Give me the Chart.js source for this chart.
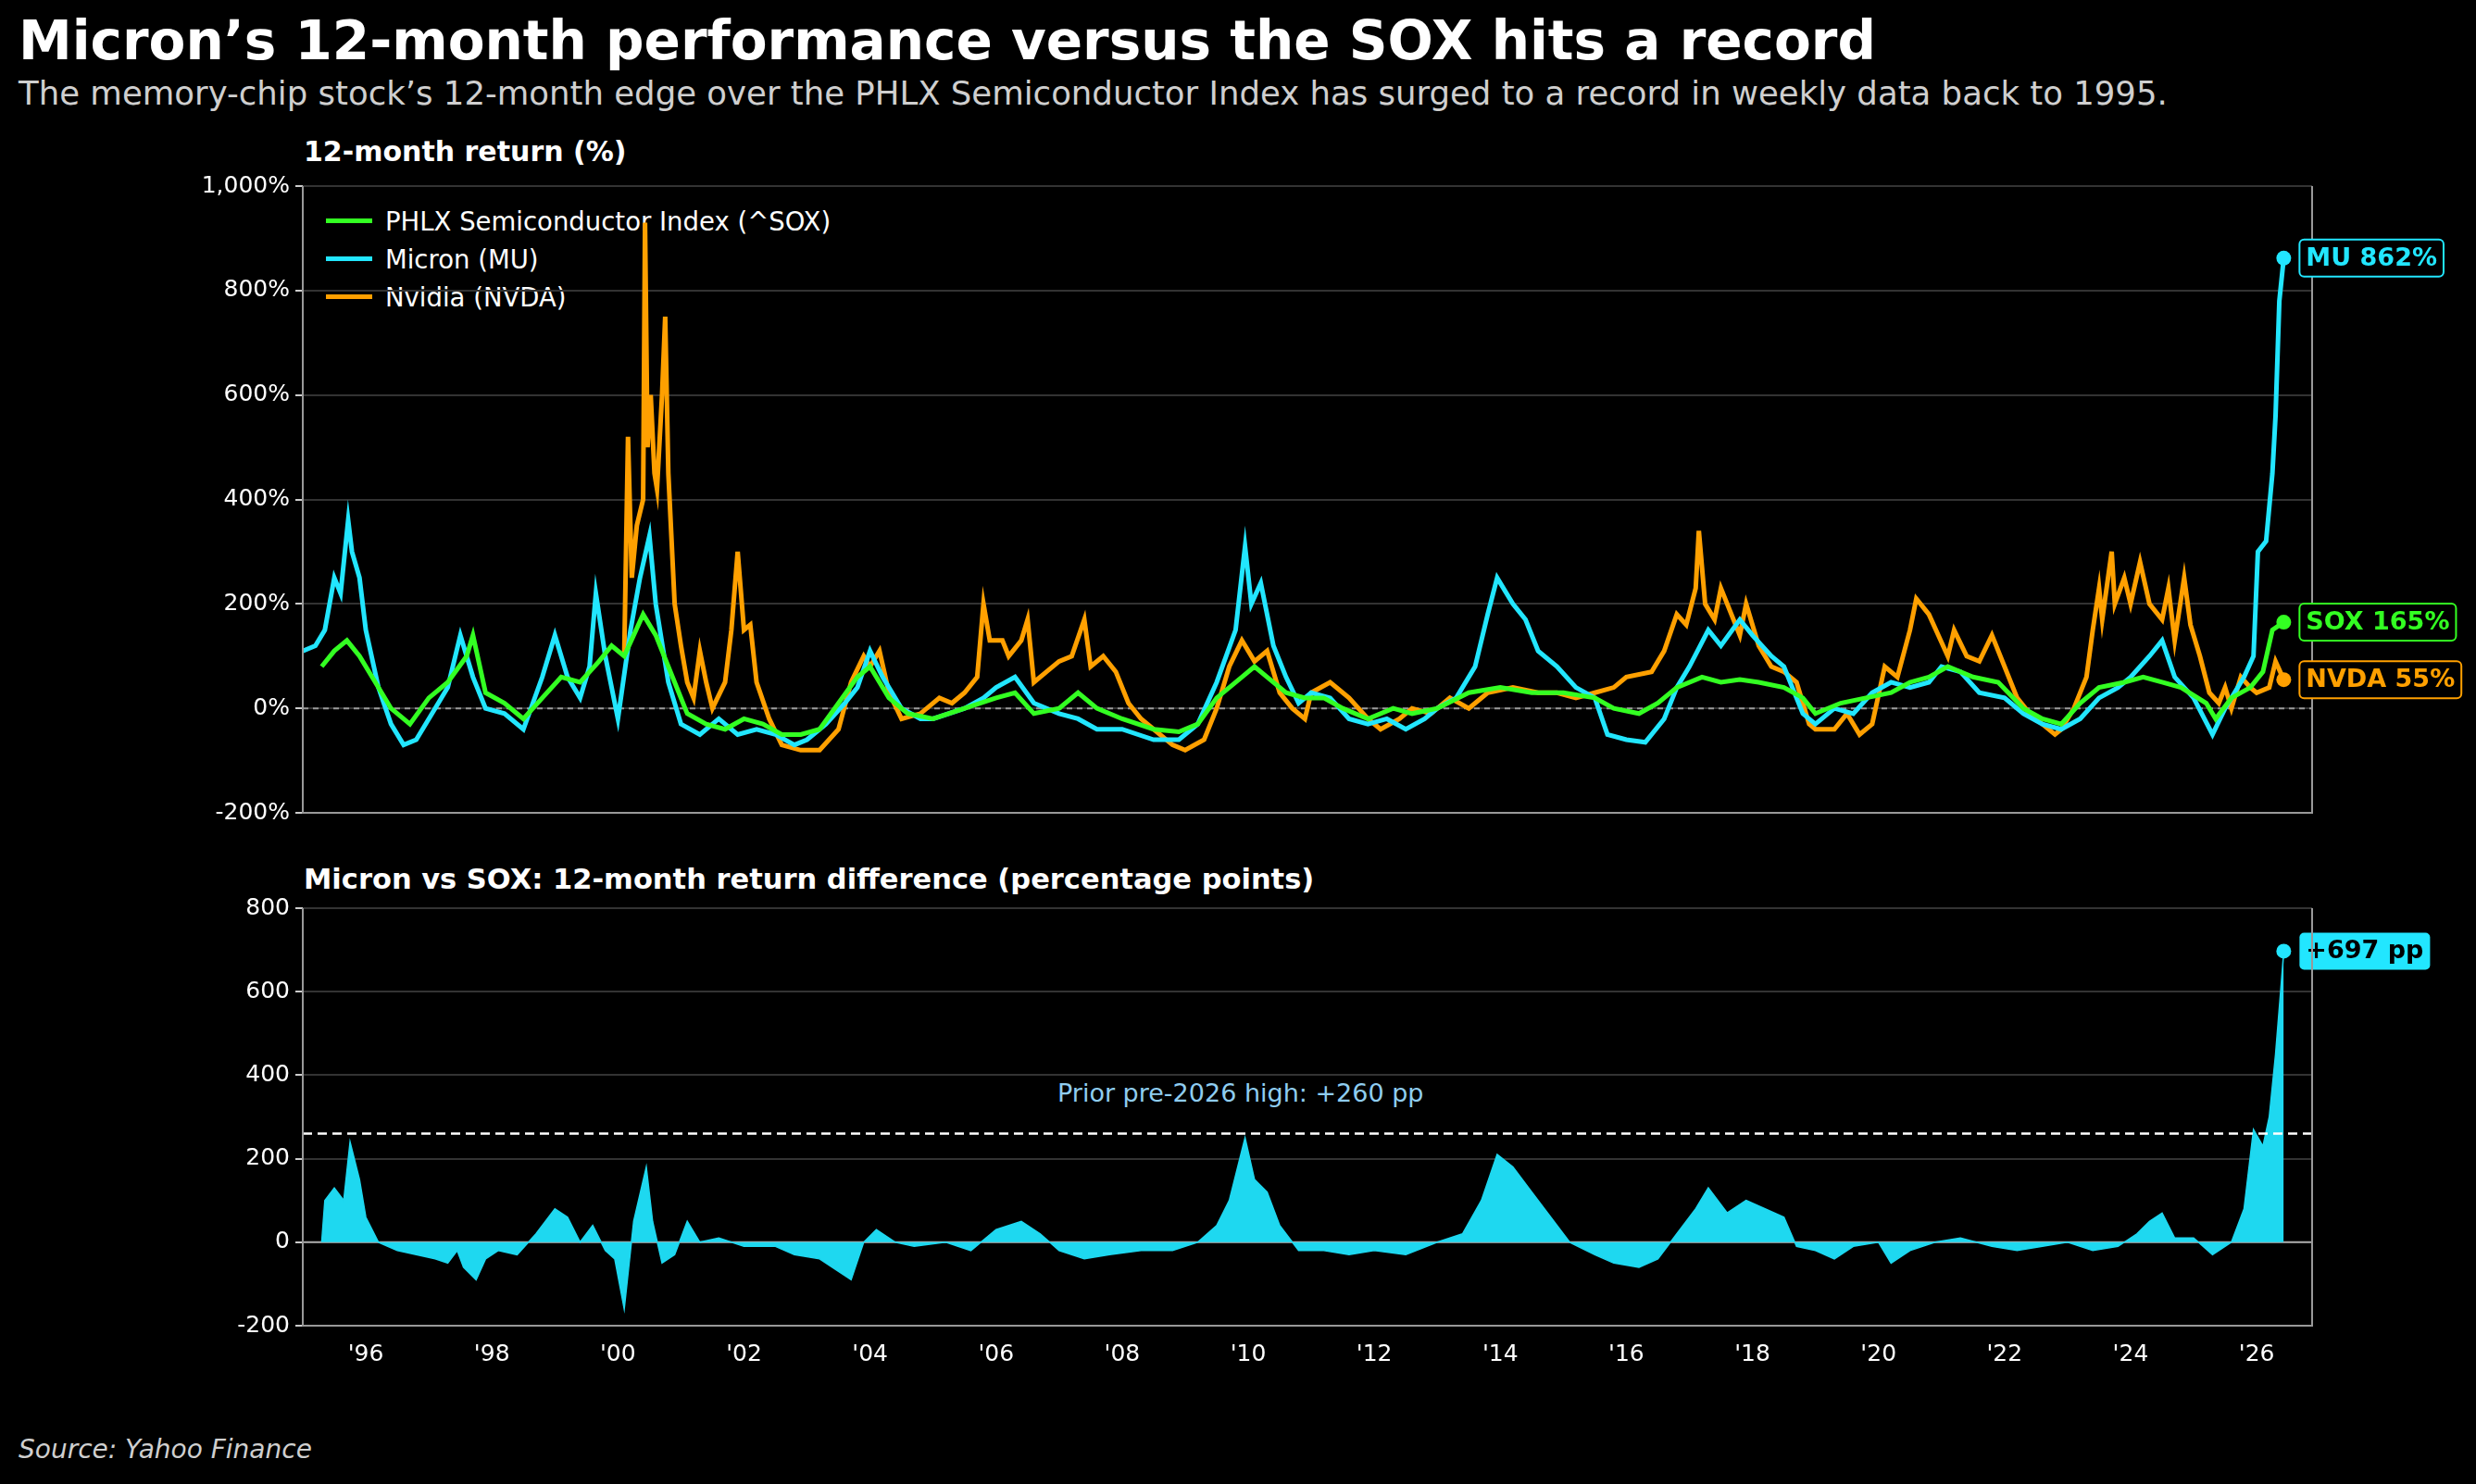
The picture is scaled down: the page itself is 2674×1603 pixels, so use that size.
<!DOCTYPE html>
<html><head><meta charset="utf-8">
<script src="https://cdn.jsdelivr.net/npm/chart.js@4"></script>
<style>
html,body{margin:0;padding:0;background:#000;width:2674px;height:1603px;overflow:hidden;font-family:"DejaVu Sans",sans-serif;color:#fff}
.t{position:absolute;white-space:nowrap}
canvas{position:absolute;left:0}
</style></head><body>
<div class="t" style="left:20px;top:10px;font-size:58px;font-weight:bold">Micron’s 12-month performance versus the SOX hits a record</div>
<div class="t" style="left:20px;top:80px;font-size:35.5px;color:#cfcfcf">The memory-chip stock’s 12-month edge over the PHLX Semiconductor Index has surged to a record in weekly data back to 1995.</div>
<div class="t" style="left:328px;top:146px;font-size:30px;font-weight:bold">12-month return (%)</div>
<div class="t" style="left:328px;top:932px;font-size:30.5px;font-weight:bold">Micron vs SOX: 12-month return difference (percentage points)</div>
<div class="t" style="left:20px;top:1549px;font-size:28px;font-style:italic;color:#cfcfcf">Source: Yahoo Finance</div>
<div class="t" style="left:1142px;top:1165px;font-size:27px;color:#8fcdf0">Prior pre-2026 high: +260 pp</div>
<div style="position:absolute;left:352px;top:218px;font-size:27.5px">
 <div style="height:41px;display:flex;align-items:center"><span style="display:inline-block;width:50px;height:5px;background:#33ff22;margin-right:14px"></span>PHLX Semiconductor Index (^SOX)</div>
 <div style="height:41px;display:flex;align-items:center"><span style="display:inline-block;width:50px;height:5px;background:#22e6ff;margin-right:14px"></span>Micron (MU)</div>
 <div style="height:41px;display:flex;align-items:center"><span style="display:inline-block;width:50px;height:5px;background:#ffa000;margin-right:14px"></span>Nvidia (NVDA)</div>
</div>
<canvas id="c1" width="2674" height="738" style="top:180px;width:2674px;height:738px"></canvas>
<canvas id="c2" width="2674" height="522" style="top:960px;width:2674px;height:522px"></canvas>
<script>
const muX=[1995.0,1995.2,1995.35,1995.5,1995.6,1995.72,1995.78,1995.9,1996.0,1996.2,1996.4,1996.6,1996.8,1997.0,1997.3,1997.5,1997.7,1997.9,1998.2,1998.5,1998.8,1999.0,1999.2,1999.4,1999.55,1999.65,1999.8,2000.0,2000.2,2000.35,2000.5,2000.6,2000.8,2001.0,2001.3,2001.6,2001.9,2002.2,2002.5,2002.8,2003.0,2003.3,2003.6,2003.8,2004.0,2004.2,2004.5,2004.8,2005.0,2005.5,2005.8,2006.0,2006.3,2006.6,2007.0,2007.3,2007.6,2008.0,2008.5,2008.9,2009.2,2009.5,2009.8,2009.95,2010.05,2010.2,2010.4,2010.6,2010.8,2011.0,2011.3,2011.6,2011.9,2012.2,2012.5,2012.8,2013.0,2013.3,2013.6,2013.8,2013.95,2014.2,2014.4,2014.6,2014.9,2015.2,2015.5,2015.7,2016.0,2016.3,2016.6,2016.8,2017.0,2017.3,2017.5,2017.8,2018.0,2018.3,2018.5,2018.8,2019.0,2019.3,2019.6,2019.9,2020.2,2020.5,2020.8,2021.0,2021.3,2021.6,2022.0,2022.3,2022.6,2022.9,2023.2,2023.5,2023.8,2024.0,2024.3,2024.5,2024.7,2025.0,2025.3,2025.5,2025.8,2025.95,2026.02,2026.15,2026.25,2026.3,2026.36,2026.43];
const muY=[110,120,150,250,220,360,300,250,150,40,-30,-70,-60,-20,40,140,60,0,-10,-40,60,140,60,20,80,220,100,-20,150,250,330,200,50,-30,-50,-20,-50,-40,-50,-70,-60,-30,10,40,110,60,0,-20,-20,0,20,40,60,10,-10,-20,-40,-40,-60,-60,-30,50,150,310,200,240,120,60,10,30,20,-20,-30,-20,-40,-20,0,20,80,180,250,200,170,110,80,40,20,-50,-60,-65,-20,40,80,150,120,170,140,100,80,-10,-30,0,-10,30,50,40,50,80,70,30,20,-10,-30,-40,-20,20,40,60,100,130,60,20,-50,0,60,100,300,320,450,560,780,862];
const soxX=[1995.3,1995.5,1995.7,1995.9,1996.1,1996.4,1996.7,1997.0,1997.3,1997.6,1997.7,1997.9,1998.2,1998.5,1998.8,1999.1,1999.4,1999.7,1999.9,2000.1,2000.4,2000.6,2000.9,2001.1,2001.4,2001.7,2002.0,2002.3,2002.6,2002.9,2003.2,2003.5,2003.8,2004.0,2004.3,2004.6,2005.0,2005.5,2006.0,2006.3,2006.6,2007.0,2007.3,2007.6,2008.0,2008.5,2008.9,2009.2,2009.5,2009.9,2010.1,2010.3,2010.6,2010.9,2011.2,2011.5,2011.9,2012.3,2012.6,2013.0,2013.5,2014.0,2014.5,2015.0,2015.5,2015.8,2016.2,2016.5,2016.8,2017.2,2017.5,2017.8,2018.1,2018.5,2018.8,2019.0,2019.4,2019.8,2020.2,2020.5,2020.8,2021.1,2021.5,2021.9,2022.3,2022.6,2022.9,2023.2,2023.5,2023.9,2024.2,2024.5,2024.8,2025.2,2025.35,2025.6,2025.9,2026.1,2026.25,2026.43];
const soxY=[80,110,130,100,60,0,-30,20,50,100,140,30,10,-20,20,60,50,90,120,100,180,140,50,-10,-30,-40,-20,-30,-50,-50,-40,10,60,80,20,-10,-20,0,20,30,-10,0,30,0,-20,-40,-45,-30,20,60,80,60,30,20,20,0,-20,0,-10,0,30,40,30,30,20,0,-10,10,40,60,50,55,50,40,20,-10,10,20,30,50,60,80,60,50,0,-20,-30,10,40,50,60,50,40,10,-20,20,40,70,150,165];
const nvX=[2000.1,2000.16,2000.22,2000.3,2000.4,2000.43,2000.47,2000.52,2000.58,2000.62,2000.7,2000.75,2000.8,2000.9,2001.0,2001.1,2001.2,2001.3,2001.4,2001.5,2001.7,2001.8,2001.9,2002.0,2002.1,2002.2,2002.4,2002.6,2002.9,2003.2,2003.5,2003.7,2003.9,2004.0,2004.15,2004.3,2004.5,2004.8,2005.1,2005.3,2005.5,2005.7,2005.8,2005.9,2006.1,2006.2,2006.4,2006.5,2006.6,2006.8,2007.0,2007.2,2007.4,2007.5,2007.7,2007.9,2008.1,2008.3,2008.5,2008.8,2009.0,2009.3,2009.5,2009.7,2009.9,2010.1,2010.3,2010.5,2010.7,2010.9,2011.0,2011.3,2011.6,2011.9,2012.1,2012.4,2012.6,2012.9,2013.2,2013.5,2013.8,2014.2,2014.6,2014.9,2015.2,2015.5,2015.8,2016.0,2016.4,2016.6,2016.8,2016.95,2017.1,2017.15,2017.25,2017.4,2017.5,2017.6,2017.8,2017.9,2018.1,2018.3,2018.5,2018.7,2018.9,2019.0,2019.3,2019.5,2019.7,2019.9,2020.1,2020.3,2020.5,2020.6,2020.8,2020.95,2021.1,2021.2,2021.4,2021.6,2021.8,2022.0,2022.2,2022.4,2022.6,2022.8,2022.9,2023.1,2023.3,2023.4,2023.5,2023.55,2023.7,2023.75,2023.9,2024.0,2024.15,2024.3,2024.5,2024.6,2024.7,2024.85,2024.95,2025.1,2025.25,2025.4,2025.5,2025.6,2025.75,2025.9,2026.0,2026.2,2026.3,2026.43];
const nvY=[100,520,250,350,400,930,500,600,450,420,600,750,450,200,120,50,20,110,50,0,50,150,300,150,160,50,-20,-70,-80,-80,-40,50,100,80,110,30,-20,-10,20,10,30,60,200,130,130,100,130,170,50,70,90,100,170,80,100,70,10,-20,-40,-70,-80,-60,0,80,130,90,110,30,0,-20,30,50,20,-20,-40,-20,0,-10,20,0,30,40,30,30,20,30,40,60,70,110,180,160,230,340,200,170,230,200,140,200,120,80,70,50,-30,-40,-40,-10,-50,-30,80,60,150,210,180,140,100,150,100,90,140,80,20,-10,-30,-50,-40,0,60,150,230,170,300,200,250,200,280,200,170,230,130,250,160,100,30,10,40,0,60,40,30,40,90,55];
const dX=[1995.3,1995.35,1995.5,1995.65,1995.75,1995.9,1996.0,1996.2,1996.5,1996.8,1997.1,1997.3,1997.45,1997.55,1997.75,1997.9,1998.1,1998.4,1998.7,1999.0,1999.2,1999.4,1999.6,1999.8,1999.95,2000.1,2000.25,2000.45,2000.55,2000.7,2000.9,2001.1,2001.3,2001.6,2002.0,2002.5,2002.8,2003.2,2003.5,2003.7,2003.9,2004.1,2004.4,2004.7,2005.2,2005.6,2006.0,2006.4,2006.7,2007.0,2007.4,2007.8,2008.3,2008.8,2009.2,2009.5,2009.7,2009.95,2010.1,2010.3,2010.5,2010.8,2011.2,2011.6,2012.0,2012.5,2013.0,2013.4,2013.7,2013.95,2014.2,2014.5,2014.8,2015.1,2015.5,2015.8,2016.2,2016.5,2016.8,2017.1,2017.3,2017.6,2017.9,2018.2,2018.5,2018.7,2019.0,2019.3,2019.6,2020.0,2020.2,2020.5,2020.9,2021.3,2021.8,2022.2,2022.6,2023.0,2023.4,2023.8,2024.1,2024.3,2024.5,2024.7,2025.0,2025.3,2025.6,2025.8,2025.95,2026.1,2026.2,2026.3,2026.38,2026.43];
const dY=[0,100,130,100,240,150,60,0,-20,-30,-40,-50,-20,-60,-90,-40,-20,-30,20,80,60,0,40,-20,-40,-160,50,180,50,-50,-30,50,0,10,-10,-10,-30,-40,-70,-90,0,30,0,-10,0,-20,30,50,20,-20,-40,-30,-20,-20,0,40,100,250,150,120,40,-20,-20,-30,-20,-30,0,20,100,210,180,120,60,0,-30,-50,-60,-40,20,80,130,70,100,80,60,-10,-20,-40,-10,0,-50,-20,0,10,-10,-20,-10,0,-20,-10,20,50,70,10,10,-30,0,80,270,230,300,450,600,697];
const topTicks=[-200,0,200,400,600,800,1000];
const botTicks=[-200,0,200,400,600,800];
const yearTicks=[1996,1998,2000,2002,2004,2006,2008,2010,2012,2014,2016,2018,2020,2022,2024,2026];

const C_SOX='#33ff22',C_MU='#22e6ff',C_NV='#ffa000',C_D='#1ed8f0';
const pts=(xs,ys)=>xs.map((x,i)=>({x,y:ys[i]}));
const F='"DejaVu Sans", sans-serif';
Chart.defaults.font.family=F;
const LEFT=327,RIGHT=177;
function xScale(showLabels){
 return {type:'linear',min:1995.0,max:2026.88,
  afterBuildTicks:s=>{s.ticks=yearTicks.map(v=>({value:v}));},
  afterFit:s=>{s.height=showLabels?50:40;},
  grid:{display:false,drawTicks:true,tickLength:10,tickColor:'#ccc',tickWidth:2},
  border:{display:false},
  ticks:{display:showLabels,color:'#fff',font:{size:25},padding:6,maxRotation:0,autoSkip:false,callback:v=>"'"+String(v).slice(2)}};
}
function yScale(tk,fmt){
 return {type:'linear',min:tk[0],max:tk[tk.length-1],
  afterBuildTicks:s=>{s.ticks=tk.map(v=>({value:v}));},
  afterFit:s=>{s.width=LEFT;},
  grid:{color:'#333',lineWidth:2,drawTicks:true,tickLength:8,tickColor:'#ccc'},
  border:{display:false},
  ticks:{color:'#fff',font:{size:25},padding:6,callback:fmt}};
}
function frame(zeroDash){return {id:'frame',beforeDatasetsDraw(ch){const {ctx,chartArea:a,scales}=ch;ctx.save();
 const z=scales.y.getPixelForValue(0);ctx.strokeStyle=zeroDash?'#999':'#aaa';ctx.lineWidth=2;if(zeroDash)ctx.setLineDash([6,5]);
 ctx.beginPath();ctx.moveTo(a.left,z);ctx.lineTo(a.right,z);ctx.stroke();ctx.restore();},
 afterDraw(ch){const {ctx,chartArea:a}=ch;ctx.save();ctx.strokeStyle='#999';ctx.lineWidth=2;ctx.beginPath();
 ctx.moveTo(a.left,a.top);ctx.lineTo(a.left,a.bottom);ctx.lineTo(a.right,a.bottom);ctx.lineTo(a.right,a.top);ctx.stroke();ctx.restore();}};}
function box(ctx,x,y,txt,col,filled){ctx.font='bold 27px '+F;const w=ctx.measureText(txt).width+14,h=40;
 ctx.beginPath();ctx.roundRect(x,y-h/2,w,h,5);if(filled){ctx.fillStyle=col;ctx.fill();}else{ctx.fillStyle='#000';ctx.fill();ctx.strokeStyle=col;ctx.lineWidth=2;ctx.stroke();}
 ctx.fillStyle=filled?'#000':col;ctx.textBaseline='middle';ctx.fillText(txt,x+7,y+1);}
const endLabels={id:'endL',afterDraw(ch){const ctx=ch.ctx;ctx.save();
 const L=[[muX,muY,C_MU,'MU 862%'],[soxX,soxY,C_SOX,'SOX 165%'],[nvX,nvY,C_NV,'NVDA 55%']];
 L.forEach(([xs,ys,c,t])=>{const px=ch.scales.x.getPixelForValue(xs[xs.length-1]),py=ch.scales.y.getPixelForValue(ys[ys.length-1]);
  ctx.fillStyle=c;ctx.beginPath();ctx.arc(px,py,8,0,7);ctx.fill();box(ctx,px+17,py,t,c,false);});ctx.restore();}};
const lineDs=(l,d,c)=>({label:l,data:d,borderColor:c,borderWidth:5,pointRadius:0,tension:0,fill:false});
new Chart(document.getElementById('c1'),{type:'line',
 data:{datasets:[lineDs('PHLX Semiconductor Index (^SOX)',pts(soxX,soxY),C_SOX),lineDs('Micron (MU)',pts(muX,muY),C_MU),lineDs('Nvidia (NVDA)',pts(nvX,nvY),C_NV)]},
 options:{responsive:false,animation:false,layout:{padding:{top:21,right:RIGHT,left:0,bottom:0}},
  plugins:{legend:{display:false},tooltip:{enabled:false}},
  scales:{x:xScale(false),y:yScale(topTicks,v=>v.toLocaleString('en-US')+'%')}},
 plugins:[frame(true),endLabels]});
const diffExtras={id:'dx',afterDatasetsDraw(ch){const {ctx,chartArea:a}=ch;ctx.save();
 const y=ch.scales.y.getPixelForValue(260);ctx.strokeStyle='#fff';ctx.lineWidth=2.5;ctx.setLineDash([10,6]);ctx.beginPath();ctx.moveTo(a.left,y);ctx.lineTo(a.right,y);ctx.stroke();ctx.setLineDash([]);
 const px=ch.scales.x.getPixelForValue(dX[dX.length-1]),py=ch.scales.y.getPixelForValue(dY[dY.length-1]);
 ctx.fillStyle=C_MU;ctx.beginPath();ctx.arc(px,py,8,0,7);ctx.fill();box(ctx,px+17,py,'+697 pp',C_MU,true);ctx.restore();}};
new Chart(document.getElementById('c2'),{type:'line',
 data:{datasets:[{label:'diff',data:pts(dX,dY),borderColor:C_D,backgroundColor:C_D,borderWidth:1.5,pointRadius:0,tension:0,fill:'origin'}]},
 options:{responsive:false,animation:false,layout:{padding:{top:21,right:RIGHT,left:0,bottom:0}},
  plugins:{legend:{display:false},tooltip:{enabled:false}},
  scales:{x:xScale(true),y:yScale(botTicks,v=>String(v))}},
 plugins:[frame(false),diffExtras]});
</script></body></html>
